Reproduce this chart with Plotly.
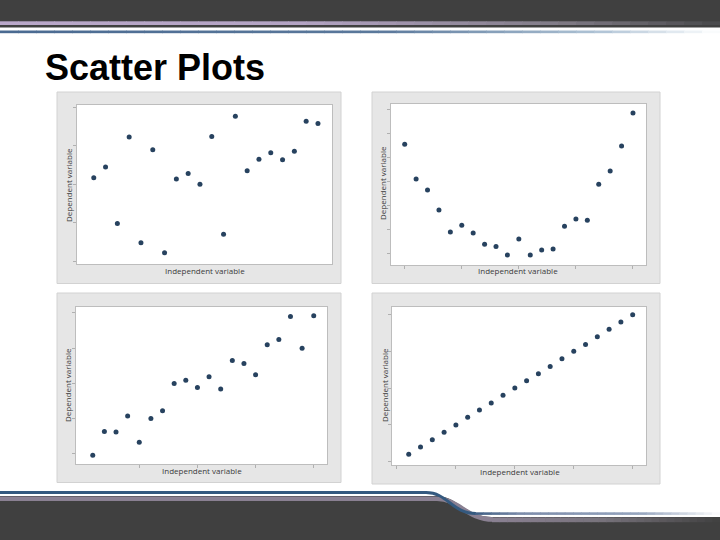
import plotly.graph_objects as go

# ---------------- data ----------------
title_text = "Scatter Plots"
x_label = "Independent variable"
y_label = "Dependent variable"

p1_y = [2.17, 2.45, 0.98, 3.23, 0.48, 2.90, 0.22, 2.14, 2.28, 2.00,
        3.24, 0.70, 3.77, 2.35, 2.65, 2.82, 2.64, 2.86, 3.64, 3.58]
p2_y = [4.56, 3.11, 2.65, 1.81, 0.89, 1.17, 0.85, 0.38, 0.28, -0.07,
        0.60, -0.07, 0.14, 0.18, 1.13, 1.44, 1.38, 2.89, 3.44, 4.49, 5.87]
p3_y = [-0.06, 0.62, 0.60, 1.06, 0.31, 0.99, 1.21, 1.99, 2.08, 1.87,
        2.18, 1.83, 2.64, 2.56, 2.24, 3.09, 3.24, 3.90, 2.99, 3.92]
p4_y = [0.19, 0.39, 0.59, 0.79, 0.99, 1.20, 1.40, 1.59, 1.80, 2.00,
        2.20, 2.39, 2.59, 2.80, 3.00, 3.19, 3.40, 3.60, 3.80, 4.00]

p1_x = list(range(1, len(p1_y) + 1))
p2_x = list(range(1, len(p2_y) + 1))
p3_x = list(range(1, len(p3_y) + 1))
p4_x = list(range(1, len(p4_y) + 1))

p1_xticks = []
p2_xticks = [1, 6, 11, 16, 21]
p3_xticks = [5, 10, 15, 20]
p4_xticks = [0, 5, 10, 15, 20]
p1_yticks = [0, 1, 2, 3, 4]
p2_yticks = [0, 1, 2, 3, 4, 5, 6]
p3_yticks = [0, 1, 2, 3, 4]
p4_yticks = [0, 1, 2, 3, 4]

# ---------------- layout helpers ----------------
W, H = 720, 540


def px(x):
    return x / W


def py(y):
    return 1 - y / H


def mix(c1, c2, t):
    return "rgb(%d,%d,%d)" % tuple(round(a + (b - a) * t) for a, b in zip(c1, c2))


def grad_color(stops, x):
    for (x0, c0), (x1, c1) in zip(stops, stops[1:]):
        if x0 <= x <= x1:
            return mix(c0, c1, (x - x0) / (x1 - x0) if x1 > x0 else 0)
    return mix(stops[-1][1], stops[-1][1], 0)


shapes = []


def rect(x0, y0, x1, y1, fill, line=None, lw=0):
    shapes.append(dict(type="rect", xref="paper", yref="paper",
                       x0=px(x0), x1=px(x1), y0=py(y1), y1=py(y0),
                       fillcolor=fill, layer="below",
                       line=dict(width=lw, color=line or fill)))


def grad_band(xa, xb, y0, y1, stops, n=40):
    step = (xb - xa) / n
    for i in range(n):
        xs = xa + i * step
        rect(xs, y0, xs + step + 0.6, y1, grad_color(stops, xs + step / 2))


def path(d_pts, fill=None, line=None, lw=0):
    shapes.append(dict(type="path", xref="paper", yref="paper", path=d_pts,
                       fillcolor=fill or "rgba(0,0,0,0)", layer="below",
                       line=dict(width=lw, color=line or "rgba(0,0,0,0)")))


def P(x, y):
    return "%.5f,%.5f" % (px(x), py(y))


DARK = "#404040"

# ---- top banner ----
rect(0, 0, W, 27.5, DARK)
grad_band(0, W, 21.3, 25.0, [(0, (186, 168, 202)), (300, (180, 164, 196)),
                              (560, (128, 123, 134)), (720, (72, 72, 74))])
grad_band(0, W, 30.5, 33.2, [(0, (74, 106, 145)), (380, (90, 120, 155)),
                              (600, (176, 196, 214)), (720, (255, 255, 255))])

# ---- bottom swoosh ----
path("M " + P(0, 496) + " L " + P(436, 496) + " C " + P(458, 496) + " " +
     P(466, 517) + " " + P(492, 517) + " L " + P(W, 517) + " L " + P(W, H) +
     " L " + P(0, H) + " Z", fill=DARK)
path("M " + P(0, 498.8) + " L " + P(437, 498.8) + " C " + P(459, 498.8) + " " +
     P(467, 519.6) + " " + P(493, 519.6), line="#8a8092", lw=4.5)
grad_band(492, W, 517.4, 522.2, [(492, (138, 128, 146)), (600, (120, 115, 124)),
                                  (720, (64, 64, 64))], n=30)
path("M " + P(0, 492.6) + " L " + P(426, 492.6) + " C " + P(448, 492.6) + " " +
     P(452, 513.6) + " " + P(476, 513.6), line="#34597f", lw=3)
grad_band(475, W, 512.3, 514.9, [(475, (60, 92, 130)), (520, (124, 140, 170)),
                                  (640, (150, 165, 190)), (720, (255, 255, 255))], n=30)

# ---- panels ----
panels = [
    dict(box=(57, 92, 341, 283.5), area=(77, 105, 332, 264),
         xr=[-0.42, 21.19], yr=[-0.07, 4.06], x=p1_x, y=p1_y,
         xt=p1_xticks, yt=p1_yticks, xl=(205, 270), yl=(69, 185)),
    dict(box=(372, 92, 660, 283.5), area=(391, 104, 646, 265),
         xr=[-0.2, 22.14], yr=[-0.49, 6.25], x=p2_x, y=p2_y,
         xt=p2_xticks, yt=p2_yticks, xl=(518, 270), yl=(382, 183)),
    dict(box=(57, 293, 341, 482.5), area=(76, 307, 327, 464),
         xr=[-0.44, 21.14], yr=[-0.31, 4.17], x=p3_x, y=p3_y,
         xt=p3_xticks, yt=p3_yticks, xl=(202, 470), yl=(68, 385)),
    dict(box=(372, 293, 660, 484), area=(392, 307, 646, 465),
         xr=[-0.42, 21.13], yr=[-0.10, 4.21], x=p4_x, y=p4_y,
         xt=p4_xticks, yt=p4_yticks, xl=(520, 471), yl=(385, 385)),
]

fig = go.Figure()
layout = dict(width=W, height=H, margin=dict(l=0, r=0, t=0, b=0),
              paper_bgcolor="white", plot_bgcolor="white", showlegend=False)
annotations = []

for i, p in enumerate(panels, start=1):
    bx0, by0, bx1, by1 = p["box"]
    rect(bx0, by0, bx1, by1, "#e6e6e6", line="#d2d2d2", lw=1)
    ax0, ay0, ax1, ay1 = p["area"]
    rect(ax0, ay0, ax1, ay1, "white")
    sfx = "" if i == 1 else str(i)
    fig.add_trace(go.Scatter(x=p["x"], y=p["y"], mode="markers",
                             xaxis="x" + sfx, yaxis="y" + sfx,
                             marker=dict(size=5, color="#27425f"),
                             hoverinfo="skip"))
    common = dict(showgrid=False, zeroline=False, showticklabels=False,
                  showline=True, mirror=True, linecolor="#bdbdbd", linewidth=1,
                  ticks="outside", ticklen=3, tickcolor="#b0b0b0", tickwidth=1,
                  tickmode="array", fixedrange=True)
    layout["xaxis" + sfx] = dict(common, domain=[px(ax0), px(ax1)], range=p["xr"],
                                 tickvals=p["xt"], anchor="y" + sfx)
    layout["yaxis" + sfx] = dict(common, domain=[py(ay1), py(ay0)], range=p["yr"],
                                 tickvals=p["yt"], anchor="x" + sfx)
    annotations.append(dict(text=x_label, xref="paper", yref="paper",
                            x=px(p["xl"][0]), y=py(p["xl"][1]), showarrow=False,
                            xanchor="center", yanchor="middle",
                            font=dict(family="Open Sans", size=8, color="#3a3a3a")))
    annotations.append(dict(text=y_label, xref="paper", yref="paper",
                            x=px(p["yl"][0]), y=py(p["yl"][1]), showarrow=False,
                            textangle=-90, xanchor="center", yanchor="middle",
                            font=dict(family="Open Sans", size=8, color="#3a3a3a")))

annotations.append(dict(text=title_text, xref="paper", yref="paper",
                        x=px(43), y=py(68), showarrow=False,
                        xanchor="left", yanchor="middle",
                        font=dict(family="Liberation Sans", size=36, color="black",
                                  weight=700)))

layout["shapes"] = shapes
layout["annotations"] = annotations
fig.update_layout(**layout)
fig.write_html("out.html", config={"displayModeBar": False},
               post_script="document.body.style.margin='0';"
                           "document.body.style.overflow='hidden';")
